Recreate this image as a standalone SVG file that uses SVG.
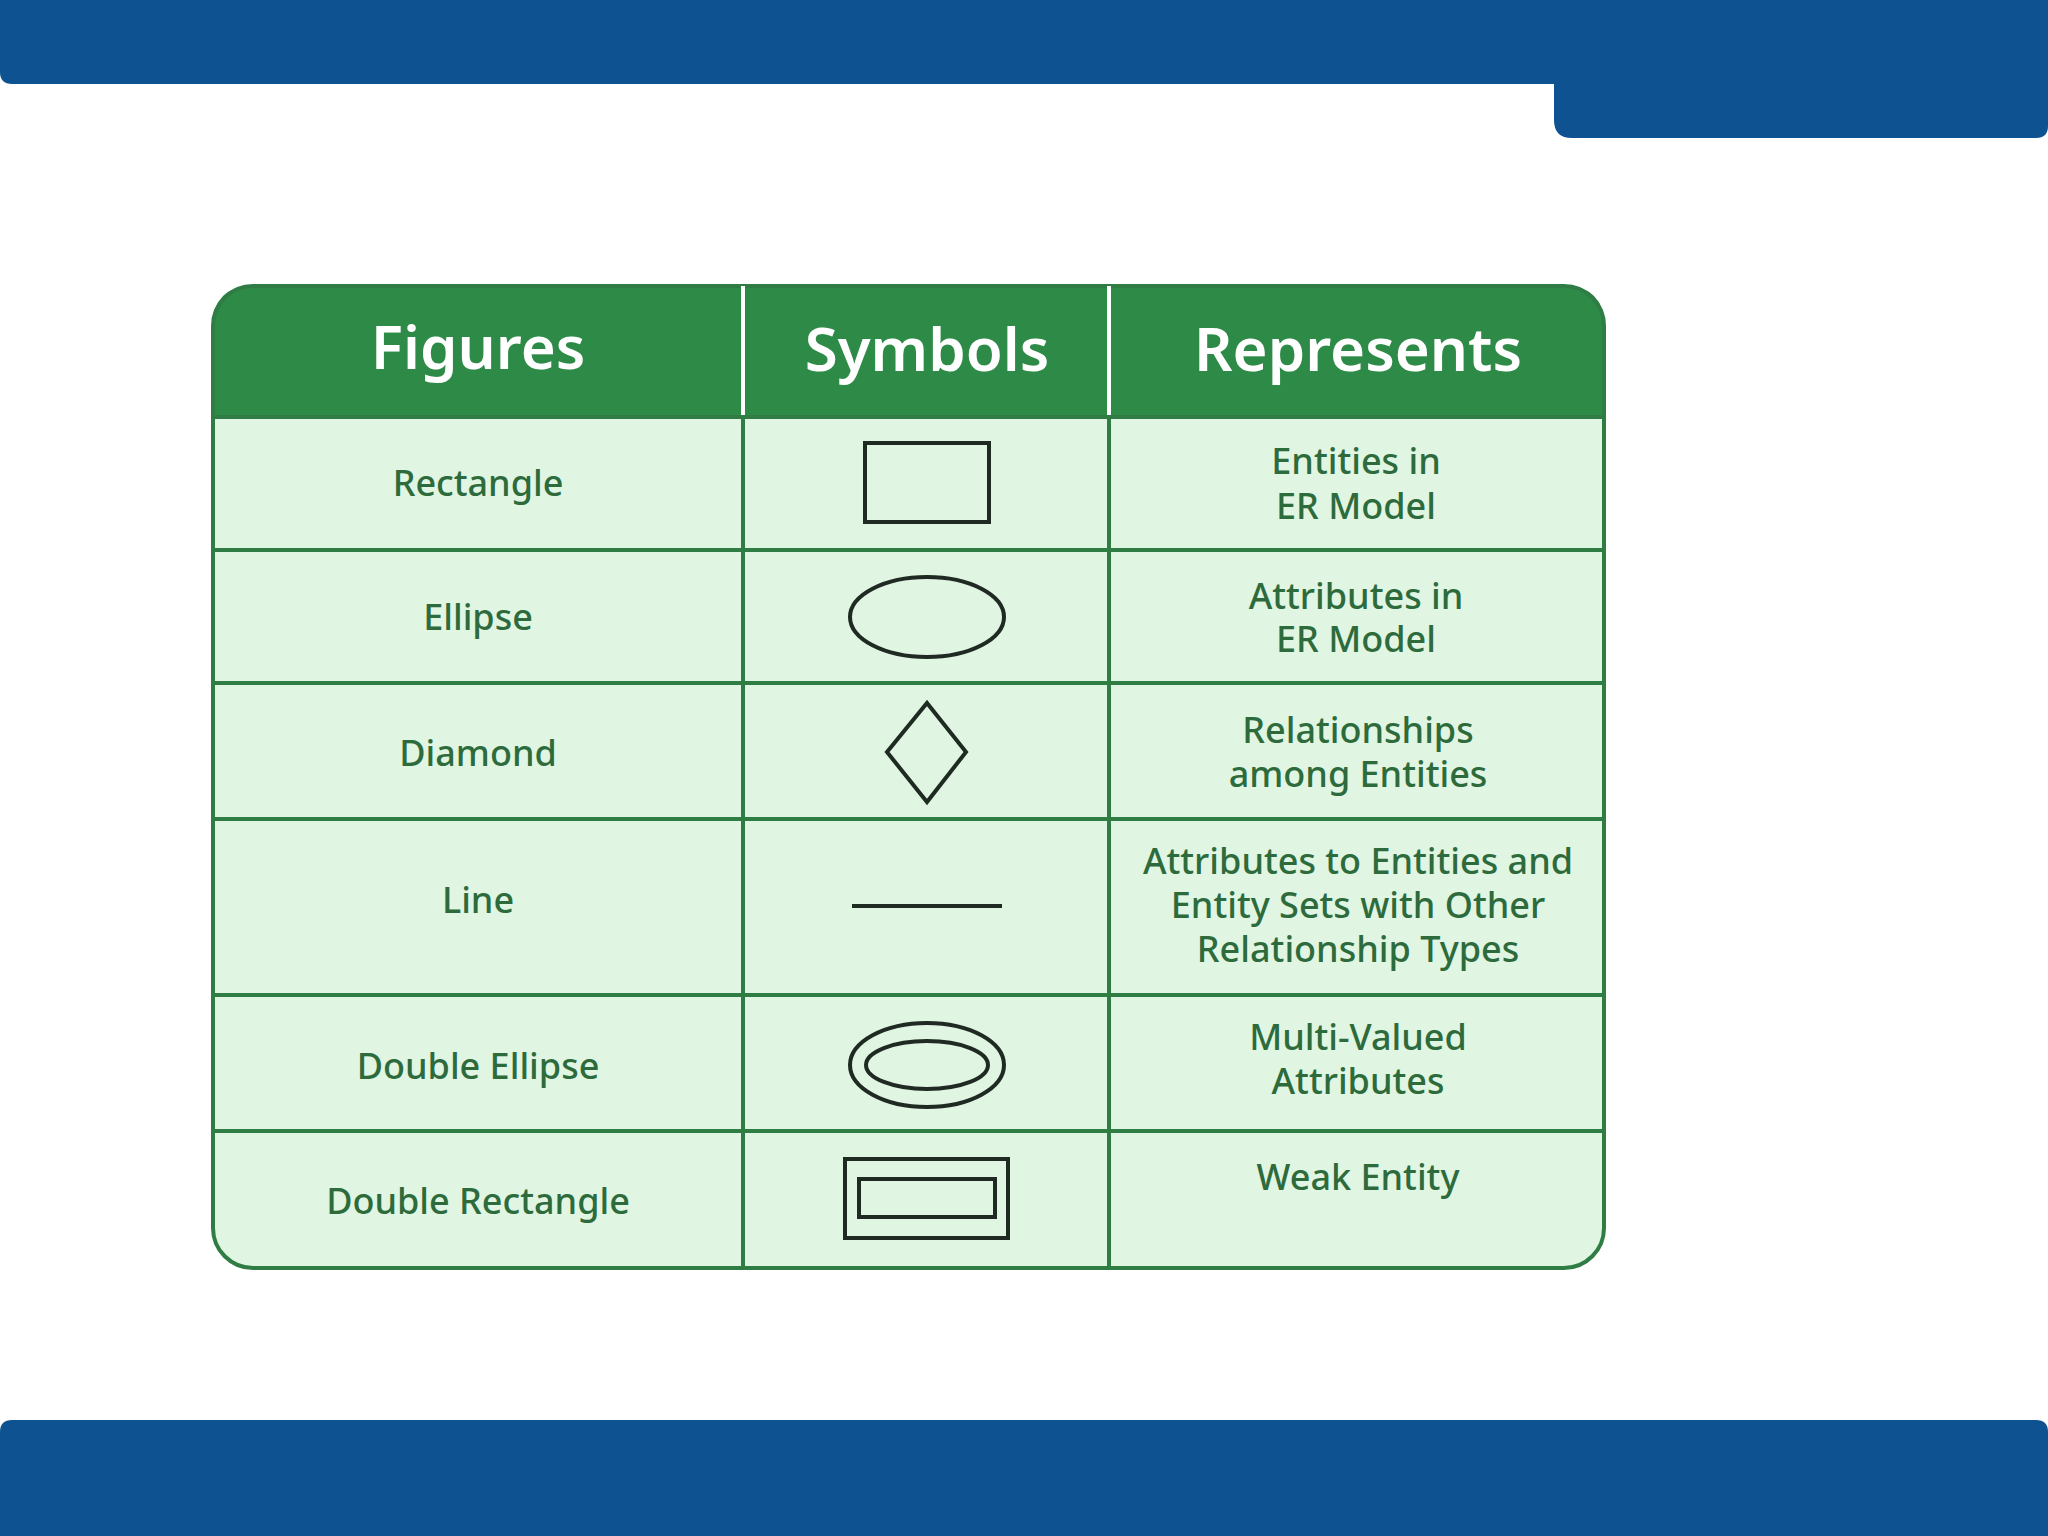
<svg xmlns="http://www.w3.org/2000/svg" width="2048" height="1536" viewBox="0 0 2048 1536">
<style>
.hd{font-family:"Noto Sans","Open Sans",sans-serif;font-weight:600;font-size:60px;fill:#ffffff;text-anchor:middle}
.t{font-family:"Noto Sans","Open Sans",sans-serif;font-weight:500;font-size:36px;fill:#2d6b3c;text-anchor:middle}
.grid{stroke:#2f7d45;stroke-width:4;fill:none}
.sym{stroke:#1f2a22;stroke-width:4;fill:none}
</style>
<rect width="2048" height="1536" fill="#ffffff"/>
<g id="top-bar">
<path d="M0 0H2048V84H12Q0 84 0 72Z" fill="#0f5292"/>
<path d="M1554 80H2048V126Q2048 138 2036 138H1572Q1554 138 1554 120Z" fill="#0f5292"/>
</g>
<g id="bottom-bar"><path d="M0 1432Q0 1420 12 1420H2036Q2048 1420 2048 1432V1536H0Z" fill="#0f5292"/></g>
<g id="table">
<rect x="213" y="286" width="1391" height="982" rx="40" fill="#e0f5e2"/>
<path d="M213 417V326Q213 286 253 286H1564Q1604 286 1604 326V417Z" fill="#2e8b47"/>
<rect x="213" y="286" width="1391" height="982" rx="40" class="grid"/>
<g class="grid">
<line x1="743" y1="286" x2="743" y2="1268" stroke="#ffffff"/>
<line x1="1109" y1="286" x2="1109" y2="1268" stroke="#ffffff"/>
<line x1="743" y1="417" x2="743" y2="1268"/>
<line x1="1109" y1="417" x2="1109" y2="1268"/>
<line x1="213" y1="417" x2="1604" y2="417"/>
<line x1="213" y1="550" x2="1604" y2="550"/>
<line x1="213" y1="683" x2="1604" y2="683"/>
<line x1="213" y1="819" x2="1604" y2="819"/>
<line x1="213" y1="995" x2="1604" y2="995"/>
<line x1="213" y1="1131" x2="1604" y2="1131"/>
</g>
</g>
<g id="header">
<text class="hd" x="478" y="369">Figures</text>
<text class="hd" x="927" y="371">Symbols</text>
<text class="hd" x="1358" y="371">Represents</text>
</g>
<g id="row-rectangle">
<text class="t" x="478" y="496">Rectangle</text>
<rect class="sym" x="865" y="443" width="124" height="79"/>
<text class="t" x="1356" y="474">Entities in</text>
<text class="t" x="1356" y="519">ER Model</text>
</g>
<g id="row-ellipse">
<text class="t" x="478" y="630">Ellipse</text>
<ellipse class="sym" cx="927" cy="617" rx="77" ry="40"/>
<text class="t" x="1356" y="609">Attributes in</text>
<text class="t" x="1356" y="652">ER Model</text>
</g>
<g id="row-diamond">
<text class="t" x="478" y="766">Diamond</text>
<polygon class="sym" points="927,703 966,752 927,802 887,752"/>
<text class="t" x="1358" y="743">Relationships</text>
<text class="t" x="1358" y="787">among Entities</text>
</g>
<g id="row-line">
<text class="t" x="478" y="913">Line</text>
<line class="sym" x1="852" y1="906" x2="1002" y2="906"/>
<text class="t" x="1358" y="874">Attributes to Entities and</text>
<text class="t" x="1358" y="918">Entity Sets with Other</text>
<text class="t" x="1358" y="962">Relationship Types</text>
</g>
<g id="row-double-ellipse">
<text class="t" x="478" y="1079">Double Ellipse</text>
<ellipse class="sym" cx="927" cy="1065" rx="77" ry="42"/>
<ellipse class="sym" cx="927" cy="1065" rx="61" ry="24"/>
<text class="t" x="1358" y="1050">Multi-Valued</text>
<text class="t" x="1358" y="1094">Attributes</text>
</g>
<g id="row-double-rectangle">
<text class="t" x="478" y="1214">Double Rectangle</text>
<rect class="sym" x="845" y="1159" width="163" height="79"/>
<rect class="sym" x="859" y="1179" width="136" height="38"/>
<text class="t" x="1358" y="1190">Weak Entity</text>
</g>
</svg>
